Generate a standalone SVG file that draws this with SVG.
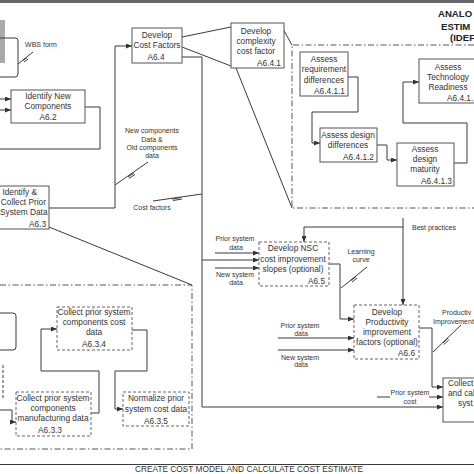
<svg xmlns="http://www.w3.org/2000/svg" width="474" height="474" viewBox="0 0 474 474">
<defs>
<marker id="ah" markerUnits="userSpaceOnUse" markerWidth="6" markerHeight="5" refX="6" refY="2.5" orient="auto">
<path d="M0,0 L6,2.5 L0,5 z" fill="#333"/>
</marker>
<style>
.box{fill:#fff;stroke:#555;stroke-width:1}
.dbox{fill:#fff;stroke:#666;stroke-width:1;stroke-dasharray:3 2}
.frame{fill:none;stroke:#555;stroke-width:1;stroke-dasharray:6 2.5 1.5 2.5}
.c{fill:none;stroke:#3a3a3a;stroke-width:1;stroke-linejoin:round}
.a{marker-end:url(#ah)}
.t{font-family:"Liberation Sans",Arial,sans-serif;font-size:8.3px;fill:#333;text-anchor:middle}
.l{font-family:"Liberation Sans",Arial,sans-serif;font-size:7px;fill:#333;text-anchor:middle}
.e{text-anchor:end}
.s{text-anchor:start}
.ttl{font-family:"Liberation Sans",Arial,sans-serif;font-size:9.6px;font-weight:bold;fill:#222}
</style>
</defs>
<rect x="0" y="0" width="474" height="474" fill="#fff"/>
<rect x="0" y="0" width="474" height="3" fill="#666"/>

<g id="title">
<text class="ttl" x="438" y="17">ANALO</text>
<text class="ttl" x="441" y="30">ESTIM</text>
<text class="ttl" x="450" y="41" font-weight="normal" font-size="9px">(IDEF</text>
</g>

<g id="connectors">
<path class="c a" d="M0,99 H11"/>
<path class="c a" d="M0,110 H11"/>
<path class="c" d="M85,107 H100 V149 H0"/>
<path class="c a" d="M49,208 H115 V46 H132"/>
<path class="c a" d="M182,57 H202 V407 H443"/>
<path class="c a" d="M202,260 H259"/>
<path class="c" d="M182,37 L231,27"/>
<path class="c" d="M182,47 L231,66"/>
<path class="c" d="M283,29 L292,45"/>
<path class="c" d="M236,68 L292,208"/>
<path class="c a" d="M348,77 H358 V112 H312 V143 H320"/>
<path class="c a" d="M377,145 H387 V160 H397"/>
<path class="c a" d="M454,163 H467 V123 H403 V82 H419"/>
<path class="c" d="M49,227 L192,285"/>
<path class="c a" d="M0,410 H12 V422 H16"/>
<path class="c a" d="M91,413 H99 V371 H41 V329 H57"/>
<path class="c a" d="M132,330 H147 V371 H115 V409 H123"/>
<path class="c a" d="M403,218 V305"/>
<path class="c a" d="M403,227 H304 V242"/>
<path class="c a" d="M215,253 H259"/>
<path class="c a" d="M215,268 H259"/>
<path class="c a" d="M329,264 H340 V319 H354"/>
<path class="c a" d="M278,338 H354"/>
<path class="c a" d="M278,350 H354"/>
<path class="c a" d="M419,328 H432 V387 H443"/>
<path class="c" d="M377,397 H390"/>
<path class="c a" d="M429,397 H443"/>
<path class="c" d="M18,64 L33,52"/>
<path class="c" d="M23,60.5 L27,57.5 M24,62 L28,59" stroke-width="1.2"/>
<path class="c" d="M115,185 L148,162"/>
<path class="c" d="M128,177 L134,173 M129,178.5 L135,174.5" stroke-width="1.2"/>
<path class="c" d="M153,201 L202,194"/>
<path class="c" d="M172,199 L181,197.5 M173,200.5 L182,199" stroke-width="1.2"/>
<path class="c" d="M341,288 L367,267"/>
<path class="c" d="M351,280.5 L356,276.5 M352,282 L357,278" stroke-width="1.2"/>
<path class="c" d="M433,352 L461,325"/>
<path class="c" d="M443,343 L448,338 M444,344.5 L449,339.5" stroke-width="1.2"/>
<path class="c" d="M0,464.5 H474" stroke="#555"/>
</g>

<g id="frames">
<path class="frame" d="M474,45 H292 V208 H474"/>
<path class="frame" d="M0,285 H192 V449 H0"/>
</g>

<g id="wbs-box">
<rect x="0" y="20" width="5" height="43" fill="#aaa"/>
<path class="c" d="M0,38 H15 Q18,38 18,41 V74 Q18,77 15,77 H0" stroke="#555"/>
</g>

<g id="A6.2">
<rect class="box" x="11" y="90" width="74" height="33"/>
<text class="t" x="48" y="99">Identify New</text>
<text class="t" x="48" y="109">Components</text>
<text class="t" x="48" y="120">A6.2</text>
</g>

<g id="A6.3">
<rect class="box" x="-2" y="186" width="51" height="43"/>
<text class="t e" x="37" y="195" font-size="7.6px">Identify &amp;</text>
<text class="t e" x="46" y="205" font-size="7.6px">Collect Prior</text>
<text class="t e" x="47.5" y="215" font-size="7.6px">System Data</text>
<text class="t e" x="46" y="227">A6.3</text>
</g>

<g id="A6.4">
<rect class="box" x="132" y="28" width="50" height="35"/>
<text class="t" x="157" y="38">Develop</text>
<text class="t" x="157" y="47.5">Cost Factors</text>
<text class="t" x="156" y="60">A6.4</text>
</g>

<g id="A6.4.1">
<rect class="box" x="231" y="23" width="53" height="45"/>
<text class="t" x="256" y="34">Develop</text>
<text class="t" x="256" y="44">complexity</text>
<text class="t" x="256" y="54">cost factor</text>
<text class="t e" x="281" y="66">A6.4.1</text>
</g>

<g id="A6.4.1.1">
<rect class="box" x="300" y="52" width="48" height="44"/>
<text class="t" x="324" y="62">Assess</text>
<text class="t" x="324" y="72">requirement</text>
<text class="t" x="324" y="82.5">differences</text>
<text class="t e" x="345" y="93.5">A6.4.1.1</text>
</g>

<g id="A6.4.1.2">
<rect class="box" x="320" y="128" width="57" height="34"/>
<text class="t" x="348" y="138">Assess design</text>
<text class="t" x="348" y="148">differences</text>
<text class="t e" x="374" y="160">A6.4.1.2</text>
</g>

<g id="A6.4.1.3">
<rect class="box" x="397" y="143" width="57" height="43"/>
<text class="t" x="425" y="152">Assess</text>
<text class="t" x="425" y="162">design</text>
<text class="t" x="425" y="172">maturity</text>
<text class="t e" x="452" y="184">A6.4.1.3</text>
</g>

<g id="A6.4.1.4">
<rect class="box" x="419" y="59" width="62" height="44"/>
<text class="t" x="448" y="70">Assess</text>
<text class="t" x="448" y="80">Technology</text>
<text class="t" x="448" y="89.5">Readiness</text>
<text class="t s" x="447" y="101">A6.4.1.</text>
</g>

<g id="A6.5">
<rect class="dbox" x="259" y="242" width="70" height="44"/>
<text class="t" x="293" y="251">Develop NSC</text>
<text class="t" x="293" y="262">cost improvement</text>
<text class="t" x="293" y="272">slopes (optional)</text>
<text class="t e" x="325" y="284">A6.5</text>
</g>

<g id="A6.6">
<rect class="dbox" x="354" y="305" width="65" height="54"/>
<text class="t" x="387" y="315">Develop</text>
<text class="t" x="387" y="325">Productivity</text>
<text class="t" x="387" y="335">improvement</text>
<text class="t" x="387" y="345">factors (optional)</text>
<text class="t e" x="415" y="356">A6.6</text>
</g>

<g id="A6.7">
<rect class="box" x="443" y="378" width="40" height="44"/>
<text class="t s" x="448" y="386">Collect</text>
<text class="t s" x="448" y="396">and cal</text>
<text class="t s" x="458" y="406">syst</text>
</g>

<g id="A6.3.x">
<path class="c" d="M-2,313 H13 Q16,313 16,316 V347 Q16,350 13,350 H-2" stroke="#555"/>
<path class="c" d="M3,365 V400" stroke="#666" stroke-dasharray="3 2"/>
</g>

<g id="A6.3.3">
<rect class="dbox" x="16" y="392" width="75" height="44"/>
<text class="t" x="53" y="401">Collect prior system</text>
<text class="t" x="53" y="411">components</text>
<text class="t" x="53" y="421">manufacturing data</text>
<text class="t" x="50" y="433">A6.3.3</text>
</g>

<g id="A6.3.4">
<rect class="dbox" x="57" y="307" width="75" height="43"/>
<text class="t" x="94" y="315">Collect prior system</text>
<text class="t" x="94" y="325">components cost</text>
<text class="t" x="94" y="335">data</text>
<text class="t" x="94" y="347">A6.3.4</text>
</g>

<g id="A6.3.5">
<rect class="dbox" x="123" y="392" width="66" height="34"/>
<text class="t" x="156" y="401">Normalize prior</text>
<text class="t" x="156" y="412">system cost data</text>
<text class="t" x="156" y="424">A6.3.5</text>
</g>

<g id="labels">
<text class="l" x="41" y="46.5">WBS form</text>
<text class="l" x="152" y="133">New components</text>
<text class="l" x="152" y="141.5">Data &amp;</text>
<text class="l" x="152" y="150">Old components</text>
<text class="l" x="152" y="158">data</text>
<text class="l" x="152" y="210">Cost factors</text>
<text class="l" x="235" y="240.5">Prior system</text>
<text class="l" x="236" y="249.5">data</text>
<text class="l" x="235" y="276.5">New system</text>
<text class="l" x="236" y="284.5">data</text>
<text class="l s" x="412" y="229.5">Best practices</text>
<text class="l" x="361" y="253.5">Learning</text>
<text class="l" x="361" y="261.5">curve</text>
<text class="l s" x="442" y="315">Productiv</text>
<text class="l s" x="433" y="323.5">Improvement</text>
<text class="l" x="300" y="327.5">Prior system</text>
<text class="l" x="301" y="335.5">data</text>
<text class="l" x="300" y="359.5">New system</text>
<text class="l" x="301" y="366.5">data</text>
<text class="l" x="410" y="395">Prior system</text>
<text class="l" x="410" y="403.5">cost</text>
<text class="t s" x="135" y="472" font-size="8px">CREATE COST MODEL AND CALCULATE COST ESTIMATE</text>
</g>
</svg>
